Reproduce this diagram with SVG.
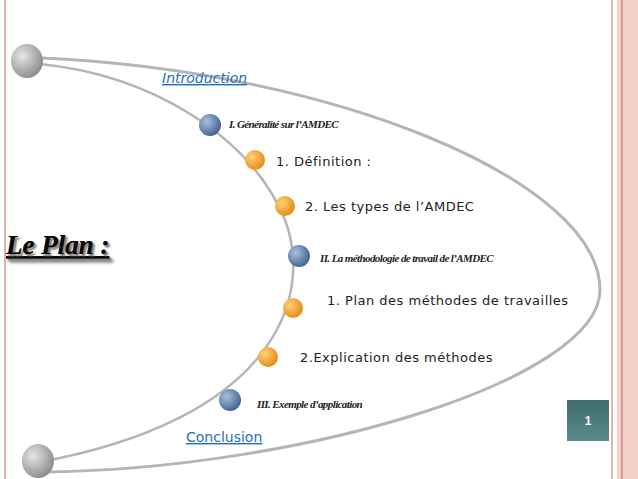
<svg xmlns="http://www.w3.org/2000/svg" width="638" height="479" viewBox="0 0 638 479">
<defs>
<radialGradient id="gray" cx="0.35" cy="0.35" r="0.7"><stop offset="0" stop-color="#e6e6e6"/><stop offset="1" stop-color="#8a8a8a"/></radialGradient>
<radialGradient id="blue" cx="0.35" cy="0.35" r="0.7"><stop offset="0" stop-color="#a9c0dd"/><stop offset="1" stop-color="#3e628f"/></radialGradient>
<radialGradient id="orange" cx="0.35" cy="0.35" r="0.7"><stop offset="0" stop-color="#ffd27a"/><stop offset="1" stop-color="#e58a10"/></radialGradient>
<linearGradient id="box" x1="0" y1="0" x2="0" y2="1"><stop offset="0" stop-color="#3f6b6b"/><stop offset="1" stop-color="#5b8c8c"/></linearGradient>
</defs>
<style>
.sm{font-family:"Liberation Serif",serif;font-size:11px;font-style:italic;font-weight:bold;fill:#222;letter-spacing:-0.6px}
.md{font-family:"DejaVu Sans",sans-serif;font-size:13px;fill:#222;letter-spacing:0.5px}
.lk{font-family:"DejaVu Sans",sans-serif;font-size:14px;fill:#1f6fc0;text-decoration:underline}
</style>
<rect width="638" height="479" fill="#fff"/>
<g id="frame" fill="none" stroke="#e8b2aa">
<line x1="5" y1="0" x2="5" y2="479" stroke-width="2"/>
<line x1="612" y1="0" x2="612" y2="479" stroke-width="2"/>
<rect x="617" y="0" width="21" height="479" fill="#f3cfc8" stroke="none"/>
<line x1="622" y1="0" x2="622" y2="479" stroke="#c0605a" stroke-width="1"/>
</g>
<g id="connectors" fill="none">
<path d="M40,58 C330,70 600,180 600,290 C600,380 300,470 40,472" stroke="#b5b5b5" stroke-width="3"/>
<path d="M40,64 C150,75 250,135 285,220 C315,300 270,420 40,462" stroke="#b5b5b5" stroke-width="2.5"/>
</g>
<g id="n-top"><ellipse cx="27" cy="61" rx="16" ry="17" fill="url(#gray)"/></g>
<g id="n-bottom"><ellipse cx="38" cy="461" rx="16" ry="17" fill="url(#gray)"/></g>
<g id="n-intro"><text x="162" y="83" class="lk" font-style="italic">Introduction</text></g>
<g id="n-1"><circle cx="210" cy="125" r="11" fill="url(#blue)"/><text x="229" y="128" class="sm">I. Généralité sur l’AMDEC</text></g>
<g id="n-11"><circle cx="255" cy="160" r="10" fill="url(#orange)"/><text x="276" y="166" class="md">1. Définition :</text></g>
<g id="n-12"><circle cx="285" cy="206" r="10" fill="url(#orange)"/><text x="305" y="211" class="md">2. Les types de l’AMDEC</text></g>
<g id="n-2"><circle cx="299" cy="256" r="11" fill="url(#blue)"/><text x="320" y="262" class="sm">II. La méthodologie de travail de l’AMDEC</text></g>
<g id="n-21"><circle cx="293" cy="308" r="10" fill="url(#orange)"/><text x="327" y="305" class="md">1. Plan des méthodes de travailles</text></g>
<g id="n-22"><circle cx="268" cy="357" r="10" fill="url(#orange)"/><text x="300" y="362" class="md">2.Explication des méthodes</text></g>
<g id="n-3"><circle cx="230" cy="400" r="11" fill="url(#blue)"/><text x="257" y="408" class="sm">III. Exemple d’application</text></g>
<g id="n-concl"><text x="186" y="442" class="lk">Conclusion</text></g>
<g id="title"><text x="6" y="254" font-family="Liberation Serif,serif" font-size="27" font-weight="bold" font-style="italic" fill="#0a0a0a" text-decoration="underline" style="text-shadow:2px 2px 2px #888">Le Plan :</text></g>
<g id="page"><rect x="567" y="400" width="42" height="41" fill="url(#box)"/><text x="588" y="425" text-anchor="middle" font-family="Liberation Sans,sans-serif" font-size="12" font-weight="bold" fill="#fff">1</text></g>
</svg>
